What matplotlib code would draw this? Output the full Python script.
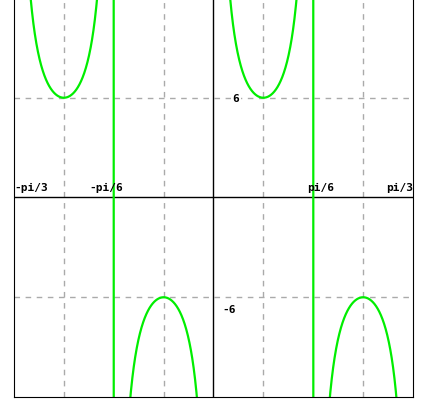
import numpy as np
import matplotlib
matplotlib.use("Agg")
import matplotlib.pyplot as plt

amplitude = 6.0
frequency = 6.0
x_ticks = [-np.pi/3, -np.pi/6, np.pi/6, np.pi/3]
x_tick_labels = ["-pi/3", "-pi/6", "pi/6", "pi/3"]
x_grid = [-np.pi/4, -np.pi/12, np.pi/12, np.pi/4]
y_ticks = [6, -6]
y_tick_labels = ["6", "-6"]

W, H = 428, 406
fig = plt.figure(figsize=(W/100, H/100), dpi=100)
ax = fig.add_axes([14/W, 8/H, 399/W, 400/H])
xmin, xmax = -np.pi/3, np.pi/3
ymin, ymax = -12, 12.06
ax.set_xlim(xmin, xmax); ax.set_ylim(ymin, ymax)

for g in x_grid:
    ax.axvline(g, color="#aaaaaa", ls=(0, (4, 4)), lw=1)
for g in y_ticks:
    ax.axhline(g, color="#aaaaaa", ls=(0, (4, 4)), lw=1)
ax.axhline(0, color="black", lw=1)
ax.axvline(0, color="black", lw=1)

x = np.linspace(xmin + 1e-4, xmax, 2000)
y = amplitude / np.sin(frequency * x)
y = np.clip(y, -50, 50)
mask = np.abs(x) < 0.004
y = np.where(mask, np.nan, y)
ax.plot(x, y, color="#00ee00", lw=1.6)

font = dict(family="DejaVu Sans Mono", weight="bold", fontsize=8)
label_x = [(-np.pi/3, "left"), (-0.649, "left"), (0.492, "left"), (np.pi/3, "right")]
for (px, ha), l in zip(label_x, x_tick_labels):
    ax.text(px, 0.35, l, ha=ha, va="bottom", **font)
ax.text(0.10, 6.0, y_tick_labels[0], ha="left", va="center",
        bbox=dict(facecolor="white", edgecolor="none", pad=1), zorder=5, **font)
ax.text(0.045, -6.7, y_tick_labels[1], ha="left", va="center", **font)

for s in ["left", "right", "bottom"]:
    ax.spines[s].set_color("black")
ax.spines["top"].set_visible(False)
ax.set_xticks([]); ax.set_yticks([])
fig.savefig("out.png", dpi=100)
